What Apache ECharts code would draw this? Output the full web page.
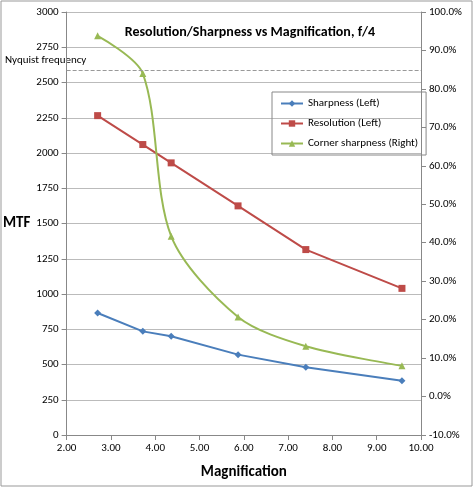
<!DOCTYPE html>
<html lang="en">
  <head>
    <meta charset="UTF-8" />
    <title>Resolution/Sharpness vs Magnification</title>
    <script src="https://cdn.jsdelivr.net/npm/echarts@6/dist/echarts.min.js"></script>
  </head>
  <body style="margin:0">
    <div id="chart" style="width:474px;height:488px"></div>
  </body>
  <script>
    // 数据
    const magnification = [2.7, 3.72, 4.36, 5.87, 7.4, 9.57];
    const sharpness = [865, 735, 700, 570, 480, 385];
    const resolution = [2265, 2060, 1930, 1625, 1315, 1040];
    const corner = [0.938, 0.84, 0.417, 0.207, 0.131, 0.08];
    const nyquist = 2590;

    const pairs = (xs, ys) => xs.map((x, i) => [x, ys[i]]);
    const font = "Calibri, 'Liberation Sans', Arial, sans-serif";

    let chart = echarts.init(document.getElementById("chart"));
    chart.setOption({
      backgroundColor: "#fff",
      textStyle: { fontFamily: font },
      title: {
        text: "Resolution/Sharpness vs Magnification, f/4",
        left: 245, top: 20, textAlign: "center",
        textStyle: { fontSize: 14, fontWeight: "bold", color: "#000", fontFamily: font },
      },
      graphic: [
        { type: "rect", shape: { x: 1, y: 1, width: 471, height: 485 }, style: { fill: "none", stroke: "#999" } },
        { type: "text", left: 5, top: 55, style: { text: "Nyquist frequency", fontSize: 11, fill: "#000", fontFamily: font } },
      ],
      legend: {
        orient: "vertical", left: 272, top: 92,
        borderColor: "#888", borderWidth: 1, padding: [6, 8],
        itemWidth: 22, itemHeight: 8, itemGap: 9,
        textStyle: { fontSize: 11, color: "#000" },
      },
      grid: { left: 42, right: 53, top: 12, bottom: 53 },
      xAxis: {
        type: "value", min: 2, max: 10, interval: 1,
        name: "Magnification", nameLocation: "middle", nameGap: 30,
        nameTextStyle: { fontSize: 15, fontWeight: "bold", color: "#000" },
        axisLabel: { formatter: (v) => v.toFixed(2), fontSize: 11, color: "#000" },
        axisLine: { lineStyle: { color: "#888" } },
        axisTick: { show: true, lineStyle: { color: "#888" } },
        splitLine: { show: false },
      },
      yAxis: [
        {
          type: "value", min: 0, max: 3000, interval: 250,
          name: "MTF", nameLocation: "middle", nameGap: 22, nameRotate: 0,
          nameTextStyle: { fontSize: 15, fontWeight: "bold", color: "#000" },
          axisLabel: { formatter: (v) => String(v), fontSize: 11, color: "#000" },
          axisLine: { show: true, lineStyle: { color: "#888" } },
          axisTick: { show: true, lineStyle: { color: "#888" } },
          splitLine: { lineStyle: { color: "#bbb" } },
        },
        {
          type: "value", min: -0.1, max: 1.0, interval: 0.1,
          axisLabel: { formatter: (v) => (v * 100).toFixed(1) + "%", fontSize: 11, color: "#000" },
          axisLine: { show: true, lineStyle: { color: "#888" } },
          axisTick: { show: true, lineStyle: { color: "#888" } },
          splitLine: { show: false },
        },
      ],
      series: [
        {
          name: "Sharpness (Left)", type: "line", data: pairs(magnification, sharpness),
          symbol: "diamond", symbolSize: 7, color: "#4a7ebb", lineStyle: { width: 2 },
          markLine: {
            silent: true, symbol: "none", label: { show: false },
            lineStyle: { type: "dashed", color: "#999", width: 1 },
            data: [{ yAxis: nyquist }],
          },
        },
        {
          name: "Resolution (Left)", type: "line", data: pairs(magnification, resolution),
          symbol: "rect", symbolSize: 7, color: "#be4b48", lineStyle: { width: 2 },
        },
        {
          name: "Corner sharpness (Right)", type: "line", yAxisIndex: 1, data: pairs(magnification, corner),
          symbol: "triangle", symbolSize: 7, color: "#98b954", smooth: 0.3, lineStyle: { width: 2 },
        },
      ],
    });
  </script>
</html>
